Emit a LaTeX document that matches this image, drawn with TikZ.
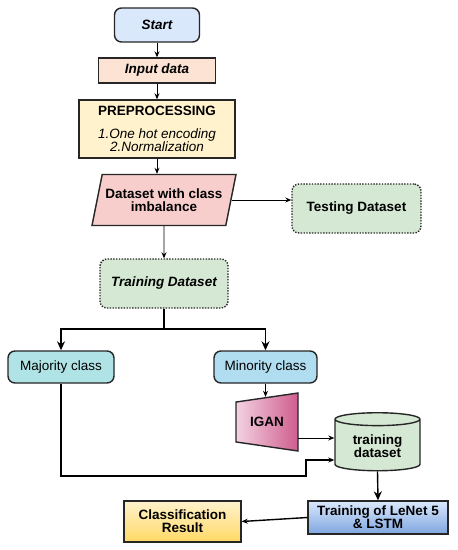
\documentclass[tikz,border=0pt]{standalone}
\usepackage{fontspec}
\setmainfont{Liberation Sans}
\usetikzlibrary{positioning,shapes.geometric,arrows.meta}

\definecolor{startblue}{HTML}{DAE8FC}
\definecolor{inpeach}{HTML}{FCE3D4}
\definecolor{prepyellow}{HTML}{FFF2CC}
\definecolor{imbpink}{HTML}{F8CECC}
\definecolor{setgreen}{HTML}{D5E8D4}
\definecolor{majteal}{HTML}{B0E3E6}
\definecolor{minblue}{HTML}{B1DDF0}
\definecolor{ganlight}{HTML}{F3D3E2}
\definecolor{gandark}{HTML}{CF5D8E}
\definecolor{netdark}{HTML}{7EA6E0}
\definecolor{resdark}{HTML}{FFD966}

\begin{document}
\begin{tikzpicture}[x=1pt, y=1pt, node distance=40pt, on grid,
  >={Stealth[length=6pt,width=5pt]},
  box/.style={draw=black!85, line width=1.4pt, align=center, inner sep=1pt,
    font=\fontsize{13.5}{13}\selectfont\bfseries},
  it/.style={font=\fontsize{13.5}{13}\selectfont\bfseries\itshape},
  dotbox/.style={box, rounded corners=7pt, fill=setgreen,
    dash pattern=on 1.4pt off 1.4pt},
  big/.style={line width=1.4pt, -{Stealth[length=9pt,width=8pt]}}]
\useasboundingbox (0,0) rectangle (458,-550);

\node [box, it, rounded corners=7pt, fill=startblue, minimum width=85pt,
  minimum height=34pt] (start) at (157,-25) {Start};
\node [box, it, fill=inpeach, minimum width=117pt, minimum height=25pt]
  (input) [below = 45.5pt of start] {Input data};
\node [box, fill=prepyellow, minimum width=156pt, minimum height=58pt]
  (prep) [below = 58.5pt of input]
  {PREPROCESSING\\[10pt]\textit{\mdseries 1.One hot encoding}\\
   \textit{\mdseries 2.Normalization}};
\node [box, trapezium, trapezium left angle=66, trapezium right angle=114,
  trapezium stretches body, fill=imbpink, minimum width=144pt,
  minimum height=51pt, inner sep=0pt] (imb) at (164,-200)
  {Dataset with class\\imbalance};
\node [dotbox, minimum width=129pt, minimum height=49pt] (test)
  at (356.5,-208.5) {Testing Dataset};
\node [dotbox, it, minimum width=128pt, minimum height=49pt] (train)
  [below = 83.5pt of imb] {Training Dataset};
\coordinate (split) at (164,-329);
\node [box, rounded corners=7pt, fill=majteal, minimum width=106pt,
  minimum height=32pt, font=\fontsize{13.5}{13}\selectfont] (major)
  at (61,-367) {Majority class};
\node [box, rounded corners=7pt, fill=minblue, minimum width=103pt,
  minimum height=32pt, font=\fontsize{13.5}{13}\selectfont] (minor)
  at (265.5,-367) {Minority class};
\node [box, trapezium, shape border rotate=90, trapezium angle=75,
  trapezium stretches body, left color=ganlight, right color=gandark,
  minimum width=58pt, minimum height=62pt, inner sep=0pt] (igan)
  at (267,-422) {IGAN};
\node [box, cylinder, shape border rotate=90, aspect=0.25, fill=setgreen,
  minimum width=85pt, minimum height=58pt] (cyl) at (377.5,-446)
  {training\\dataset};
\node [box, top color=startblue, bottom color=netdark, minimum width=140pt,
  minimum height=33pt] (lenet) at (378,-517.5)
  {Training of LeNet 5\\\& LSTM};
\node [box, top color=prepyellow, bottom color=resdark, minimum width=117pt,
  minimum height=41pt] (result) at (182.5,-521.5)
  {Classification\\Result};

\coordinate (ganout) at (298,-438);
\coordinate (bend) at (306,-476);

\path [->, line width=0.9pt]
(start) edge (input)
(input) edge (prep)
(prep.south) edge (prep.south |- imb.north)
(imb.east) edge (imb.east -| test.west)
(imb.south) edge (train.north)
(minor) edge (minor.south |- igan.north)
(ganout) edge (ganout -| cyl.west);
\draw [line width=1.4pt] (train.south) -- (split);
\draw [big] (split) -| (major.north);
\draw [big] (split) -| (minor.north);
\draw [->, line width=1.4pt] (major.south) |- (bend)
  |- ([yshift=-14pt]cyl.west);
\draw [big] (cyl.south) -- (lenet.north);
\draw [->, line width=1.4pt] (lenet.west) -- (result.east);
\end{tikzpicture}
\end{document}
